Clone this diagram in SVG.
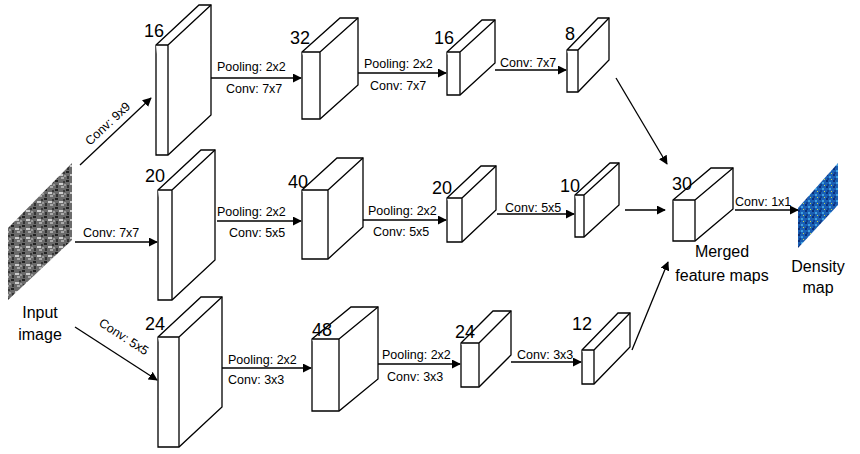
<svg xmlns="http://www.w3.org/2000/svg" width="860" height="454" viewBox="0 0 860 454">
<style>
.b{fill:#fff;stroke:#000;stroke-width:1.3}
.t{font-family:"Liberation Sans",Arial,sans-serif;font-size:12.5px;fill:#000}
.n{font-family:"Liberation Sans",Arial,sans-serif;font-size:18px;fill:#000}
.l{font-family:"Liberation Sans",Arial,sans-serif;font-size:16px;fill:#000;text-anchor:middle}
.c line{stroke:#000;stroke-width:1.3;marker-end:url(#a)}
</style>
<defs>
<marker id="a" viewBox="0 0 10 10" refX="9" refY="5" markerWidth="9" markerHeight="9" markerUnits="userSpaceOnUse" orient="auto"><path d="M0,0L10,5L0,10z"/></marker>
<pattern id="g" width="11" height="9" patternUnits="userSpaceOnUse"><rect width="11" height="9" fill="#6a6a6a"/><rect x="0" y="0" width="3" height="2" fill="#222"/><rect x="4" y="3" width="4" height="2" fill="#ccc"/><rect x="1" y="5" width="2" height="3" fill="#333"/><rect x="6" y="6" width="3" height="2" fill="#aaa"/><rect x="8" y="1" width="2" height="2" fill="#3a3a3a"/><rect x="9" y="4" width="2" height="2" fill="#999"/></pattern>
<pattern id="d" width="7" height="6" patternUnits="userSpaceOnUse"><rect width="7" height="6" fill="#1a5fb4"/><rect x="0" y="0" width="2" height="2" fill="#0a2f7a"/><rect x="3" y="2" width="2" height="2" fill="#3fa0e0"/><rect x="1" y="4" width="2" height="2" fill="#10408f"/><rect x="5" y="5" width="1" height="1" fill="#c9d84a"/></pattern>
</defs>
<g id="input"><polygon points="8,228 72,163 72,240 8,300" fill="url(#g)"/><text class="l" x="40" y="318">Input</text><text class="l" x="40" y="340">image</text></g>
<g id="density"><polygon points="798,208 838,163 838,205 798,248" fill="url(#d)"/><text class="l" x="818" y="272">Density</text><text class="l" x="818" y="293">map</text></g>
<g id="b16a"><path class="b" d="M156,45 L199,5 L211,5 L211,115 L168,155 L156,155Z"/><path class="b" d="M156,45 H168 V155 M168,45 L211,5"/><text class="n" x="144" y="37">16</text></g>
<g id="b20a"><path class="b" d="M158,190 L201,150 L215,150 L215,260 L172,300 L158,300Z"/><path class="b" d="M158,190 H172 V300 M172,190 L215,150"/><text class="n" x="145" y="182">20</text></g>
<g id="b24a"><path class="b" d="M158,337 L201,297 L222,297 L222,407 L179,447 L158,447Z"/><path class="b" d="M158,337 H179 V447 M179,337 L222,297"/><text class="n" x="145" y="330">24</text></g>
<g id="b32"><path class="b" d="M302,52 L340,18 L358,18 L358,85 L320,119 L302,119Z"/><path class="b" d="M302,52 H320 V119 M320,52 L358,18"/><text class="n" x="290" y="44">32</text></g>
<g id="b40"><path class="b" d="M302,190 L337,158 L363,158 L363,227 L328,259 L302,259Z"/><path class="b" d="M302,190 H328 V259 M328,190 L363,158"/><text class="n" x="288" y="188">40</text></g>
<g id="b48"><path class="b" d="M312,339 L351,307 L378,307 L378,379 L339,411 L312,411Z"/><path class="b" d="M312,339 H339 V411 M339,339 L378,307"/><text class="n" x="312" y="336">48</text></g>
<g id="b16b"><path class="b" d="M447,52 L482,20 L495,20 L495,63 L460,95 L447,95Z"/><path class="b" d="M447,52 H460 V95 M460,52 L495,20"/><text class="n" x="434" y="44">16</text></g>
<g id="b20b"><path class="b" d="M447,198 L481,166 L496,166 L496,210 L462,242 L447,242Z"/><path class="b" d="M447,198 H462 V242 M462,198 L496,166"/><text class="n" x="432" y="194">20</text></g>
<g id="b24b"><path class="b" d="M461,343 L493,311 L511,311 L511,355 L479,387 L461,387Z"/><path class="b" d="M461,343 H479 V387 M479,343 L511,311"/><text class="n" x="455" y="338">24</text></g>
<g id="b8"><path class="b" d="M567,50 L598,18 L609,18 L609,60 L578,92 L567,92Z"/><path class="b" d="M567,50 H578 V92 M578,50 L609,18"/><text class="n" x="565" y="40">8</text></g>
<g id="b10"><path class="b" d="M575,195 L610,163 L619,163 L619,205 L584,237 L575,237Z"/><path class="b" d="M575,195 H584 V237 M584,195 L619,163"/><text class="n" x="560" y="192">10</text></g>
<g id="b12"><path class="b" d="M582,350 L618,313 L630,313 L630,347 L594,384 L582,384Z"/><path class="b" d="M582,350 H594 V384 M594,350 L630,313"/><text class="n" x="572" y="330">12</text></g>
<g id="merged"><path class="b" d="M673,200 L711,168 L733,168 L733,209 L695,241 L673,241Z"/><path class="b" d="M673,200 H695 V241 M695,200 L733,168"/><text class="n" x="672" y="190">30</text><text class="l" x="722" y="257">Merged</text><text class="l" x="722" y="281">feature maps</text></g>
<g class="c" id="connectors">
<line x1="80" y1="165" x2="151" y2="98"/>
<line x1="75" y1="242" x2="157" y2="242"/>
<line x1="75" y1="327" x2="157" y2="380"/>
<line x1="211" y1="78" x2="301" y2="78"/>
<line x1="358" y1="73" x2="446" y2="73"/>
<line x1="495" y1="70" x2="566" y2="70"/>
<line x1="616" y1="78" x2="667" y2="164"/>
<line x1="217" y1="221" x2="301" y2="221"/>
<line x1="363" y1="220" x2="446" y2="220"/>
<line x1="497" y1="214" x2="574" y2="214"/>
<line x1="625" y1="210" x2="665" y2="210"/>
<line x1="222" y1="368" x2="311" y2="368"/>
<line x1="378" y1="364" x2="460" y2="364"/>
<line x1="511" y1="362" x2="581" y2="362"/>
<line x1="632" y1="350" x2="668" y2="262"/>
<line x1="735" y1="210" x2="798" y2="210"/>
</g>
<g id="labels">
<text class="t" transform="translate(90,146) rotate(-43)">Conv: 9x9</text>
<text class="t" x="83" y="237">Conv: 7x7</text>
<text class="t" transform="translate(98,325) rotate(33)">Conv: 5x5</text>
<text class="t" x="217" y="71">Pooling: 2x2</text><text class="t" x="226" y="93">Conv: 7x7</text>
<text class="t" x="364" y="68">Pooling: 2x2</text><text class="t" x="370" y="90">Conv: 7x7</text>
<text class="t" x="500" y="67">Conv: 7x7</text>
<text class="t" x="217" y="216">Pooling: 2x2</text><text class="t" x="229" y="237">Conv: 5x5</text>
<text class="t" x="368" y="215">Pooling: 2x2</text><text class="t" x="373" y="236">Conv: 5x5</text>
<text class="t" x="505" y="212">Conv: 5x5</text>
<text class="t" x="228" y="364">Pooling: 2x2</text><text class="t" x="228" y="384">Conv: 3x3</text>
<text class="t" x="382" y="359">Pooling: 2x2</text><text class="t" x="387" y="381">Conv: 3x3</text>
<text class="t" x="517" y="359">Conv: 3x3</text>
<text class="t" x="735" y="206">Conv: 1x1</text>
</g>
</svg>
